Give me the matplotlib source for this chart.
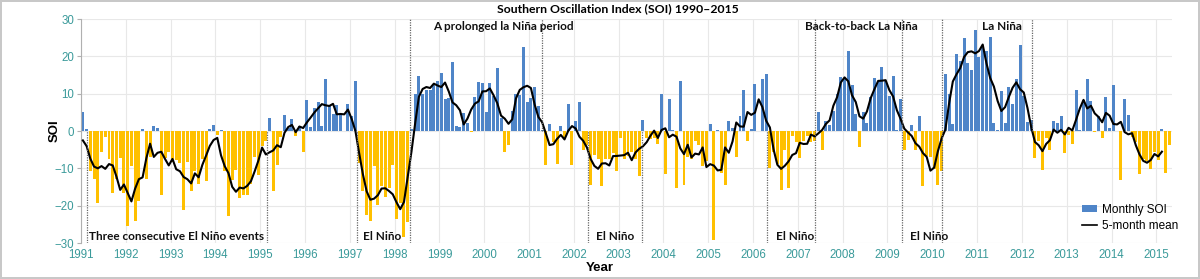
import numpy as np
import pandas as pd
import matplotlib
matplotlib.use("Agg")
import matplotlib.pyplot as plt
from matplotlib.patches import Patch
from matplotlib.lines import Line2D

# monthly SOI, Jan 1991 - Apr 2015 (one row per year)
soi_1990s = [
    5.1, 0.6, -10.6, -12.9, -19.3, -5.5, -1.7, -7.6, -16.6, -12.9, -7.3, -16.7,      # 1991
    -25.4, -9.3, -24.2, -18.7, 0.5, -12.8, -6.9, 1.4, 0.8, -17.2, -7.3, -5.5,        # 1992
    -8.2, -7.9, -8.5, -21.1, -8.2, -16.0, -10.8, -14.1, -7.6, -13.5, 0.6, 1.6,       # 1993
    -1.1, 0.3, -10.6, -22.8, -13.0, -10.4, -18.0, -17.2, -17.2, -14.1, -7.0, -11.9,  # 1994
    -4.0, -2.8, 3.5, -16.2, -9.0, -1.5, 4.2, 0.8, 3.1, -1.3, 1.3, -5.5,              # 1995
    8.4, 1.1, 6.2, 7.8, 1.3, 13.9, 6.8, 4.6, 6.9, 4.2, -0.1, 7.2,                    # 1996
    4.1, 13.3, -8.5, -16.2, -22.4, -24.1, -9.5, -19.8, -14.8, -17.8, -15.2, -9.1,    # 1997
    -23.5, -19.2, -28.5, -24.4, 0.5, 9.9, 14.6, 9.8, 11.1, 10.9, 12.5, 13.3,         # 1998
    15.6, 8.6, 8.9, 18.5, 1.3, 1.0, 4.8, 2.1, -0.4, 9.1, 13.1, 12.8,                 # 1999
]
soi_2000s = [
    5.1, 12.9, 9.4, 16.8, 3.6, -5.5, -3.7, 5.3, 9.9, 9.7, 22.4, 7.7,                 # 2000
    8.9, 11.9, 6.7, 0.3, -9.0, 1.8, -3.0, -8.9, 1.4, -1.9, 7.2, -9.1,                # 2001
    2.7, 7.7, -5.2, -3.8, -14.5, -6.3, -7.6, -14.6, -7.6, -7.4, -6.0, -10.6,         # 2002
    -2.0, -7.4, -6.8, -5.5, -7.4, -12.0, 2.9, -1.8, -2.2, -1.9, -3.4, 9.8,           # 2003
    -11.6, 8.6, 0.2, -15.4, 13.3, -14.4, -6.9, -7.6, -2.8, -3.7, -9.3, -8.0,         # 2004
    1.8, -29.1, 0.2, -11.2, -14.5, 2.6, 0.9, -6.9, 3.9, 10.9, -2.7, 0.6,             # 2005
    12.7, 0.1, 13.8, 15.2, -9.8, -5.5, -8.9, -15.9, -5.1, -15.3, -1.4, -3.0,         # 2006
    -7.3, -2.7, -1.4, -3.0, -2.7, 5.0, -5.1, 2.7, 1.5, 5.4, 9.8, 14.4,               # 2007
    14.1, 21.3, 12.2, 4.5, -4.3, 5.1, 2.2, 9.1, 14.1, 13.5, 17.1, 13.3,              # 2008
    9.4, 14.8, 0.2, 8.6, -5.0, -2.3, 1.7, -5.0, 3.9, -14.7, -6.8, -7.0,              # 2009
]
soi_2010s = [
    -10.1, -14.5, -10.6, 15.2, 10.0, 1.8, 20.5, 18.8, 25.0, 18.3, 16.4, 27.1,        # 2010
    19.9, 22.3, 21.4, 25.1, 2.1, 0.2, 10.7, 2.1, 11.7, 7.3, 13.8, 23.0,              # 2011
    9.4, 2.5, 2.9, -7.1, -2.7, -10.4, -1.8, -5.0, 2.6, 2.2, 3.9, -6.0,               # 2012
    -1.1, -3.6, 11.1, 0.3, 8.3, 13.9, 8.1, -0.4, 3.9, -1.9, 9.2, 0.9,                # 2013
    12.2, 0.1, -13.0, 8.6, 4.4, -1.5, -3.0, -11.4, -7.5, -8.0, -10.1, -5.5,          # 2014
    -7.8, 0.6, -11.2, -3.8,                                                          # 2015
]
# Nov, Dec 1990 - not drawn as bars, only needed for the start of the 5-month mean
soi_1990_tail = [-5.3, -2.4]

# event boundaries (decimal year) and which half of the plot the marker covers
event_dates = [1991.14, 1995.16, 1997.17, 1998.34, 2001.28, 2002.31,
               2003.51, 2006.30, 2007.39, 2009.33, 2010.22, 2012.23]
event_spans = ["lo", "lo", "lo", "full", "hi", "lo",
               "lo", "lo", "full", "full", "full", "hi"]

event_labels = ["Three consecutive El Niño events", "El Niño", "A prolonged la Niña period",
                "El Niño", "El Niño", "Back-to-back La Niña", "El Niño", "La Niña"]
label_years = [1993.13, 1997.71, 2000.42, 2002.91, 2006.93, 2008.42, 2009.93, 2011.55]
label_side = ["lo", "lo", "hi", "lo", "lo", "hi", "lo", "hi"]

soi = np.array(soi_1990s + soi_2000s + soi_2010s)
months = 1991 + (np.arange(len(soi)) + 0.5) / 12
mean5 = pd.Series(soi_1990_tail + list(soi)).rolling(5, center=True).mean().to_numpy()[2:]

teal = "#3a9a9a"
blue = "#4f85c8"
gold = "#ffc000"

fig = plt.figure(figsize=(12, 2.79), dpi=100, linewidth=1.5, edgecolor="#c8c8c8")
ax = fig.add_axes([81 / 1200, 36 / 279, 1091 / 1200, 224 / 279])

colors = np.where(soi >= 0, blue, gold)
ax.bar(months, soi, width=0.8 / 12, color=colors, linewidth=0, zorder=2)
ax.plot(months, mean5, color="black", lw=1.5, zorder=3)

spans = {"lo": (-30, 0), "hi": (0, 30), "full": (-30, 30)}
for d, s in zip(event_dates, event_spans):
    lo, hi = spans[s]
    ax.vlines(d, lo, hi, colors="#666666", linestyles=(0, (1, 1)), lw=0.9, zorder=4)

for txt, xx, side in zip(event_labels, label_years, label_side):
    yy = 27.9 if side == "hi" else -28.3
    ax.text(xx, yy, txt, ha="center", va="center", fontsize=8.5, fontweight="bold",
            family=["Lato", "DejaVu Sans"], color="#111111", zorder=5)

ax.set_xlim(1991, 2015.35)
ax.set_ylim(-30, 30)
ax.set_xticks(np.arange(1991, 2016))
ax.set_yticks(np.arange(-30, 31, 10))
ax.grid(color="#e8e8e8", lw=0.8)
ax.set_axisbelow(True)
for sp in ["top", "right", "bottom"]:
    ax.spines[sp].set_visible(False)
ax.spines["left"].set_color("#b0b0b0")
ax.tick_params(axis="x", length=0, pad=4)
ax.tick_params(axis="y", length=3, color="#b0b0b0", pad=2)
for lab in ax.get_xticklabels() + ax.get_yticklabels():
    lab.set_family(["Liberation Sans Narrow", "Liberation Sans"])
    lab.set_fontsize(8.3)
    lab.set_color(teal)

fig.text(0.515, 1 - 9 / 279, "Southern Oscillation Index (SOI) 1990\u20132015", ha="center",
         va="center", fontsize=8.8, fontweight="bold", family=["Lato", "DejaVu Sans"])
fig.text(599.5 / 1200, 1 - 268 / 279, "Year", ha="center", va="center",
         fontsize=9.5, fontweight="bold", family="Liberation Sans")
fig.text(55 / 1200, 1 - 131 / 279, "SOI", ha="center", va="center", rotation=90,
         fontsize=9.5, fontweight="bold", family="Liberation Sans")

handles = [Patch(facecolor=blue, edgecolor="none"), Line2D([], [], color="black", lw=1.2)]
fig.legend(handles, ["Monthly SOI", "5-month mean"], loc="lower left",
           bbox_to_anchor=(1076 / 1200, 1 - 238 / 279), frameon=False,
           prop={"family": "Liberation Sans", "size": 8.5}, handlelength=1.3,
           handleheight=0.5, handletextpad=0.4, borderpad=0, labelspacing=0.35)

fig.savefig("out.png", dpi=100)
